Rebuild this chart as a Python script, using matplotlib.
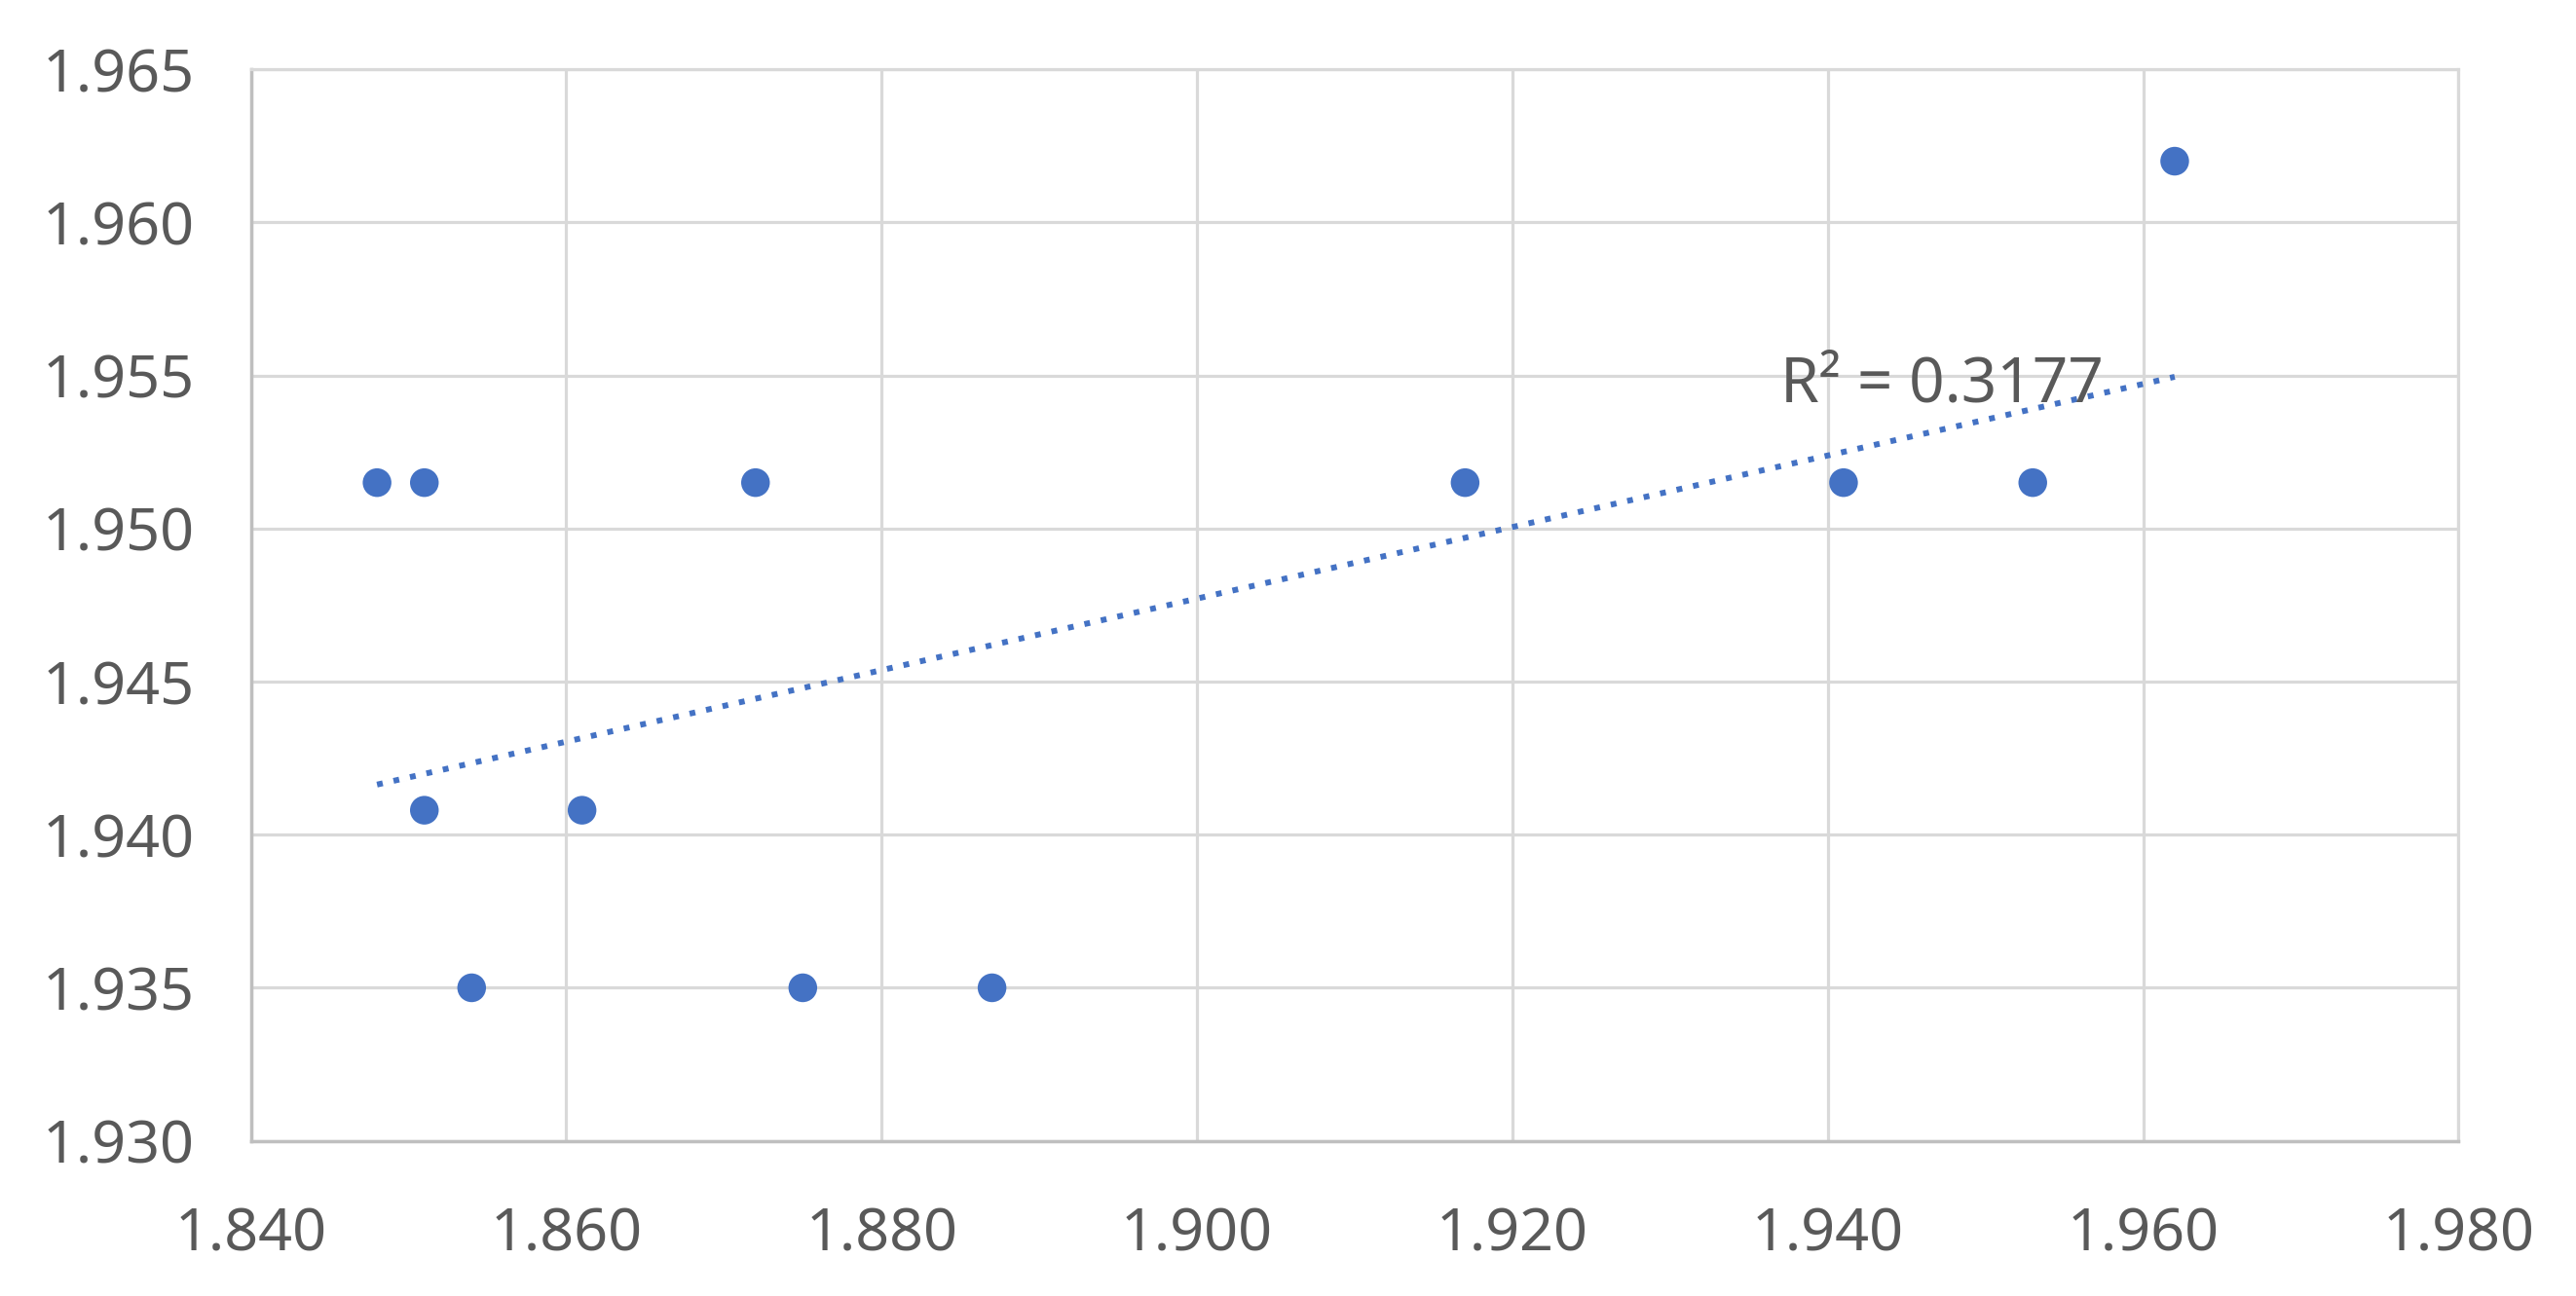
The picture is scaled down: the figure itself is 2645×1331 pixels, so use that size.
import numpy as np
import matplotlib.pyplot as plt

# values
x_vals = [1.848, 1.851, 1.872, 1.917, 1.941, 1.953, 1.962,
          1.851, 1.861, 1.854, 1.875, 1.887]
y_vals = [1.9515, 1.9515, 1.9515, 1.9515, 1.9515, 1.9515, 1.962,
          1.9408, 1.9408, 1.935, 1.935, 1.935]
x_ticks = [1.840, 1.860, 1.880, 1.900, 1.920, 1.940, 1.960, 1.980]
y_ticks = [1.930, 1.935, 1.940, 1.945, 1.950, 1.955, 1.960, 1.965]
r2_label = "R² = 0.3177"

blue = "#4472C4"
grey_text = "#595959"

plt.rcParams['font.family'] = ['Noto Sans', 'DejaVu Sans']

fig = plt.figure(figsize=(26.45, 13.31), dpi=100)
ax = fig.add_axes([0.0974, 0.1197, 0.857, 0.8268])

x = np.array(x_vals)
y = np.array(y_vals)

# linear trendline
m, b = np.polyfit(x, y, 1)
xx = np.linspace(x.min(), x.max(), 100)
ax.plot(xx, m * xx + b, color=blue, linewidth=4.3,
        linestyle=(0, (1, 1.9)), dash_capstyle='butt', zorder=2)

ax.scatter(x, y, s=450, color=blue, edgecolors='none', zorder=3)

ax.set_xlim(1.840, 1.980)
ax.set_ylim(1.930, 1.965)
ax.set_xticks(x_ticks)
ax.set_yticks(y_ticks)
ax.set_xticklabels([f"{v:.3f}" for v in x_ticks])
ax.set_yticklabels([f"{v:.3f}" for v in y_ticks])

ax.grid(True, color="#D9D9D9", linewidth=2.3, zorder=0)
ax.set_axisbelow(True)
for side in ['top', 'right']:
    ax.spines[side].set_color("#D9D9D9")
    ax.spines[side].set_linewidth(2.3)
for side in ['left', 'bottom']:
    ax.spines[side].set_color("#BFBFBF")
    ax.spines[side].set_linewidth(2.5)

ax.tick_params(axis='both', length=0, labelsize=44, colors=grey_text)
ax.tick_params(axis='x', pad=48)
ax.tick_params(axis='y', pad=42)

ax.text(0.693, 0.705, r2_label, transform=ax.transAxes, fontsize=46,
        color=grey_text, ha='left', va='center', zorder=4)

fig.savefig("out.png", dpi=100)
